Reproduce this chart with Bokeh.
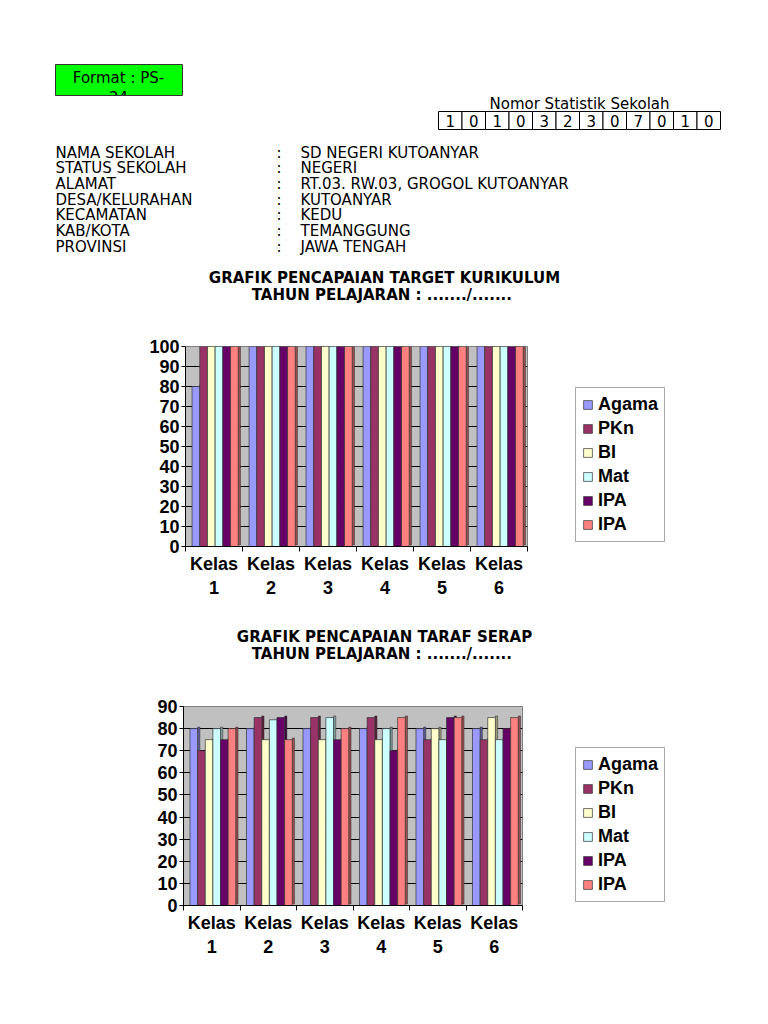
import numpy as np
from bokeh.plotting import figure
from bokeh.layouts import column, row
from bokeh.models import (Range1d, FixedTicker, Legend, LegendItem, ColumnDataSource)
from bokeh.core.properties import value
from bokeh.embed import file_html
from bokeh.resources import INLINE

# ---------------- data ----------------
classes = ["Kelas\n1", "Kelas\n2", "Kelas\n3", "Kelas\n4", "Kelas\n5", "Kelas\n6"]
series = ["Agama", "PKn", "BI", "Mat", "IPA", "IPA"]
colors = ["#9999FF", "#993366", "#FFFFCC", "#CCFFFF", "#660066", "#FF8080"]
side_colors = ["#5C5C99", "#5C1F3D", "#99997A", "#7A9999", "#3D003D", "#994D4D"]

target_agama = [80, 100, 100, 100, 100, 100]
target_pkn = [100, 100, 100, 100, 100, 100]
target_bi = [100, 100, 100, 100, 100, 100]
target_mat = [100, 100, 100, 100, 100, 100]
target_ipa = [100, 100, 100, 100, 100, 100]
target_ipa2 = [100, 100, 100, 100, 100, 100]

serap_agama = [80, 80, 80, 80, 80, 80]
serap_pkn = [70, 85, 85, 85, 75, 75]
serap_bi = [75, 75, 75, 75, 80, 85]
serap_mat = [80, 84, 85, 80, 75, 75]
serap_ipa = [75, 85, 75, 70, 85, 80]
serap_ipa2 = [80, 75, 80, 85, 85, 85]

y_ticks_1 = [0, 10, 20, 30, 40, 50, 60, 70, 80, 90, 100]
y_ticks_2 = [0, 10, 20, 30, 40, 50, 60, 70, 80, 90]

info_labels = ["NAMA SEKOLAH", "STATUS SEKOLAH", "ALAMAT", "DESA/KELURAHAN",
               "KECAMATAN", "KAB/KOTA", "PROVINSI"]
info_values = ["SD NEGERI KUTOANYAR", "NEGERI", "RT.03. RW.03, GROGOL KUTOANYAR",
               "KUTOANYAR", "KEDU", "TEMANGGUNG", "JAWA  TENGAH"]
nss_digits = ["1", "0", "1", "0", "3", "2", "3", "0", "7", "0", "1", "0"]

title1 = ["GRAFIK PENCAPAIAN TARGET KURIKULUM", "TAHUN PELAJARAN :  ......./......."]
title2 = ["GRAFIK PENCAPAIAN TARAF SERAP", "TAHUN PELAJARAN :  ......./......."]

PAGE_W = 752
CHART_W = 540
TXT = value("DejaVu Sans")
CHART_FONT = "Liberation Sans"


def blank_fig(y0, h, w=PAGE_W, x0=0):
    p = figure(width=w, height=h, x_range=Range1d(x0, x0 + w),
               y_range=Range1d(y0 + h, y0), output_backend="svg",
               toolbar_location=None, min_border=0, frame_align=False)
    p.axis.visible = False
    p.grid.visible = False
    p.outline_line_color = None
    p.background_fill_color = "white"
    p.border_fill_color = "white"
    return p


# ---------------- header ----------------
H_TOP = 0
H1 = 305
hdr = blank_fig(H_TOP, H1)

# green "Format" box (second line clipped by box)
hdr.quad(left=[55], right=[182], top=[64], bottom=[95], fill_color="#00FF00", line_color=None)
hdr.text(x=[118], y=[77], text=["Format : PS-"], text_font=TXT, text_font_size="15px",
         text_align="center", text_baseline="middle", text_color="black")
hdr.text(x=[118], y=[96], text=["24"], text_font=TXT, text_font_size="15px",
         text_align="center", text_baseline="middle", text_color="black")
hdr.quad(left=[54], right=[184], top=[95.5], bottom=[108], fill_color="white", line_color=None)
hdr.quad(left=[55], right=[182], top=[64], bottom=[95], fill_color=None,
         line_color="#333333", line_width=1)

# Nomor Statistik Sekolah
hdr.text(x=[579], y=[103], text=["Nomor Statistik Sekolah"], text_font=TXT,
         text_font_size="15px", text_align="center", text_baseline="middle", text_color="black")
nb_left, nb_right = 438, 720
cw = (nb_right - nb_left) / len(nss_digits)
lefts = [nb_left + i * cw for i in range(len(nss_digits))]
hdr.quad(left=lefts, right=[l + cw for l in lefts], top=[111] * 12, bottom=[129] * 12,
         fill_color="white", line_color="black", line_width=1)
hdr.text(x=[l + cw / 2 for l in lefts], y=[120] * 12, text=nss_digits, text_font=TXT,
         text_font_size="15px", text_align="center", text_baseline="middle", text_color="black")

# school info
row_y = [152 + i * 15.7 for i in range(len(info_labels))]
hdr.text(x=[55] * 7, y=row_y, text=info_labels, text_font=TXT, text_font_size="15px",
         text_baseline="middle", text_color="black")
hdr.text(x=[276] * 7, y=row_y, text=[":"] * 7, text_font=TXT, text_font_size="15px",
         text_baseline="middle", text_color="black")
hdr.text(x=[300] * 7, y=row_y, text=info_values, text_font=TXT, text_font_size="15px",
         text_baseline="middle", text_color="black")

# chart 1 title
hdr.text(x=[384, 384], y=[277, 294], text=title1, text_font=TXT, text_font_size="15px",
         text_font_style="bold", text_align="center", text_baseline="middle", text_color="black")


# ---------------- chart builder ----------------
def bar_chart(y0, h, frame_top, frame_bottom, frame_left, frame_right, ymax, yticks,
              data, legend_top):
    p = figure(width=CHART_W, height=h, x_range=Range1d(0.5, 6.5), y_range=Range1d(0, ymax),
               output_backend="svg", toolbar_location=None, frame_align=False,
               min_border_top=frame_top - y0, min_border_bottom=y0 + h - frame_bottom,
               min_border_left=frame_left, min_border_right=CHART_W - frame_right)
    p.background_fill_color = "#C0C0C0"
    p.border_fill_color = "white"
    p.outline_line_color = "#808080"
    p.xgrid.visible = False
    p.ygrid.grid_line_color = "black"
    p.ygrid.grid_line_width = 1
    p.ygrid.ticker = FixedTicker(ticks=yticks)

    p.yaxis.ticker = FixedTicker(ticks=yticks)
    p.yaxis.major_label_text_font = CHART_FONT
    p.yaxis.major_label_text_font_style = "bold"
    p.yaxis.major_label_text_font_size = "18px"
    p.yaxis.major_label_text_color = "black"
    p.yaxis.major_tick_out = 4
    p.yaxis.major_tick_in = 0
    p.yaxis.major_label_standoff = 2
    p.yaxis.minor_tick_line_color = None
    p.yaxis.axis_line_color = "black"

    centers = list(range(1, len(classes) + 1))
    p.xaxis.ticker = FixedTicker(ticks=centers,
                                 minor_ticks=[c - 0.5 for c in centers] + [len(centers) + 0.5])
    p.xaxis.major_label_overrides = {c: classes[i] for i, c in enumerate(centers)}
    p.xaxis.major_label_text_font = CHART_FONT
    p.xaxis.major_label_text_font_style = "bold"
    p.xaxis.major_label_text_font_size = "18px"
    p.xaxis.major_label_text_color = "black"
    p.xaxis.major_tick_line_color = None
    p.xaxis.minor_tick_out = 5
    p.xaxis.minor_tick_in = 0
    p.xaxis.minor_tick_line_color = "black"
    p.xaxis.axis_line_color = "black"
    p.xaxis.major_label_standoff = 1

    bw = 0.135
    dd = 0.04
    dy = ymax * 0.008
    x_base = np.array(centers, dtype=float) + 0.02
    for i, vals in enumerate(data):
        xs = x_base + (i - 2.5) * bw
        src = ColumnDataSource(dict(x=xs, top=vals, sx=xs + bw / 2 + dd / 2,
                                    stop=np.array(vals) + dy))
        p.vbar(x="sx", top="stop", bottom=dy, width=dd, source=src,
               fill_color=side_colors[i], line_color="#333333", line_width=0.5)
        p.vbar(x="x", top="top", bottom=0, width=bw, source=src,
               fill_color=colors[i], line_color="#333333", line_width=0.7)

    # legend panel (separate figure to the right of the chart)
    lw = PAGE_W - CHART_W
    lp = blank_fig(y0, h, w=lw, x0=CHART_W)
    leg_h = 150
    # zero-size proxy glyph hidden behind the legend box: only used for the swatch
    px, py = 620, legend_top + leg_h / 2
    items = []
    for i in range(len(series)):
        r = lp.vbar(x=[px], top=[py], bottom=[py], width=0.1, fill_color=colors[i],
                    line_color="#333333", line_width=0.7)
        items.append(LegendItem(label=series[i], renderers=[r]))
    leg = Legend(items=items, location=(575 - CHART_W, y0 + h - (legend_top + leg_h)),
                 orientation="vertical")
    leg.label_text_font = CHART_FONT
    leg.label_text_font_style = "bold"
    leg.label_text_font_size = "18px"
    leg.label_text_color = "black"
    leg.glyph_width = 11
    leg.glyph_height = 11
    leg.label_height = 18
    leg.label_standoff = 5
    leg.spacing = 3
    leg.padding = 6
    leg.margin = 0
    leg.border_line_color = "#555555"
    leg.border_line_width = 1
    leg.background_fill_color = "white"
    leg.background_fill_alpha = 1
    lp.add_layout(leg)
    return row(p, lp, spacing=0)


target_data = [target_agama, target_pkn, target_bi, target_mat, target_ipa, target_ipa2]
serap_data = [serap_agama, serap_pkn, serap_bi, serap_mat, serap_ipa, serap_ipa2]

C1_Y0 = H_TOP + H1          # 305
C1_H = 305
chart1 = bar_chart(C1_Y0, C1_H, 346, 546, 185, 527, 100, y_ticks_1, target_data, 392)

T2_Y0 = C1_Y0 + C1_H        # 610
T2_H = 60
t2 = blank_fig(T2_Y0, T2_H)
t2.text(x=[384, 384], y=[636, 653], text=title2, text_font=TXT, text_font_size="15px",
        text_font_style="bold", text_align="center", text_baseline="middle", text_color="black")

C2_Y0 = T2_Y0 + T2_H        # 670
C2_H = 330
chart2 = bar_chart(C2_Y0, C2_H, 706, 905, 183, 522, 90, y_ticks_2, serap_data, 752)

page = column(hdr, chart1, t2, chart2, spacing=0)

with open("out.html", "w") as f:
    f.write(file_html(page, INLINE))
